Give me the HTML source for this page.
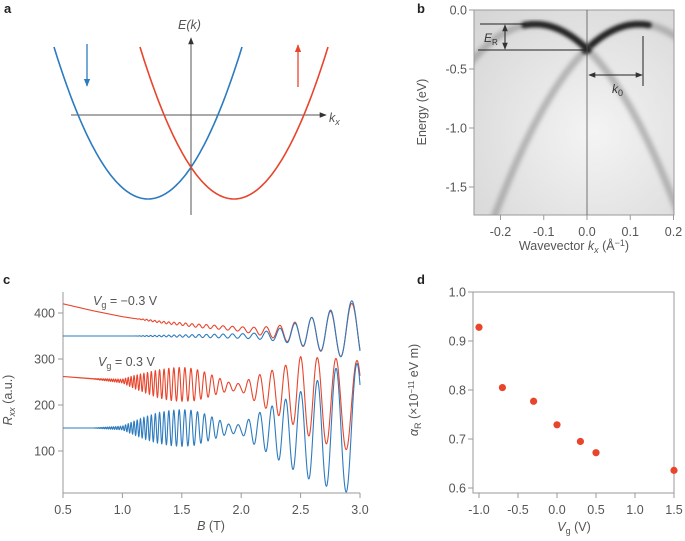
<!DOCTYPE html>
<html><head><meta charset="utf-8"><style>
html,body{margin:0;padding:0;background:#fff}
svg{display:block;font-family:"Liberation Sans",sans-serif}
.t{fill:#555;font-size:12.5px}
.pl{fill:#222;font-size:13px;font-weight:bold}
.ax{stroke:#999;stroke-width:1;fill:none}
</style></head><body>
<svg id="fig" width="685" height="541" viewBox="0 0 685 541">
<defs>
<marker id="ah" viewBox="0 0 10 10" refX="9" refY="5" markerWidth="7" markerHeight="7" orient="auto-start-reverse"><path d="M0,1 L10,5 L0,9 z" fill="#333"/></marker>
<marker id="ahb" viewBox="0 0 10 10" refX="9" refY="5" markerWidth="6" markerHeight="6" orient="auto"><path d="M0,1 L10,5 L0,9 z" fill="#2c7bbf"/></marker>
<marker id="ahr" viewBox="0 0 10 10" refX="9" refY="5" markerWidth="6" markerHeight="6" orient="auto"><path d="M0,1 L10,5 L0,9 z" fill="#e8452c"/></marker>
<filter id="bl" x="-20%" y="-20%" width="140%" height="140%"><feGaussianBlur stdDeviation="2.2"/></filter>
<filter id="bl2" x="-20%" y="-20%" width="140%" height="140%"><feGaussianBlur stdDeviation="1.5"/></filter>
<radialGradient id="bg" cx="0.6" cy="0.6" r="0.8"><stop offset="0" stop-color="#f4f4f4"/><stop offset="1" stop-color="#d6d6d6"/></radialGradient>
<clipPath id="cb"><rect x="474" y="10" width="200" height="205"/></clipPath>
</defs>

<!-- Panel a -->
<g>
<text class="pl" x="4" y="13">a</text>
<line x1="191" y1="215" x2="191" y2="38" stroke="#555" stroke-width="1" marker-end="url(#ah)"/>
<line x1="71" y1="115" x2="326" y2="115" stroke="#555" stroke-width="1" marker-end="url(#ah)"/>
<text class="t" x="178" y="29" font-style="italic">E(k)</text>
<text class="t" x="329" y="122" font-style="italic">k<tspan font-size="9" dy="3">x</tspan></text>
<path id="pa-blue" fill="none" stroke="#2c7bbf" stroke-width="1.6"/>
<path id="pa-red" fill="none" stroke="#e8452c" stroke-width="1.6"/>
<line x1="87" y1="44" x2="87" y2="86" stroke="#2c7bbf" stroke-width="1.3" marker-end="url(#ahb)"/>
<line x1="298" y1="87" x2="298" y2="45" stroke="#e8452c" stroke-width="1.3" marker-end="url(#ahr)"/>
</g>

<!-- Panel b -->
<g>
<text class="pl" x="417" y="13">b</text>
<rect x="474" y="10" width="200" height="205" fill="url(#bg)"/>
<g clip-path="url(#cb)" id="bands"></g>
<rect x="474" y="10" width="200" height="205" class="ax"/>
<line x1="587" y1="10" x2="587" y2="215" stroke="#555" stroke-width="0.8"/>
<g id="b-ticks"></g>
<line x1="480" y1="24" x2="526" y2="24" stroke="#222" stroke-width="1"/>
<line x1="478" y1="50" x2="587" y2="50" stroke="#222" stroke-width="1"/>
<line x1="505" y1="25" x2="505" y2="49" stroke="#222" stroke-width="1" marker-start="url(#ah)" marker-end="url(#ah)"/>
<text x="484" y="42" font-size="12" fill="#333" font-style="italic">E<tspan font-size="8" font-style="normal" dy="3">R</tspan></text>
<line x1="643" y1="36" x2="643" y2="86" stroke="#222" stroke-width="1"/>
<line x1="589" y1="75" x2="642" y2="75" stroke="#222" stroke-width="1" marker-start="url(#ah)" marker-end="url(#ah)"/>
<text x="612" y="93" font-size="12" fill="#333" font-style="italic">k<tspan font-size="9" font-style="normal" dy="3">0</tspan></text>
<text class="t" transform="translate(426,112) rotate(-90)" text-anchor="middle">Energy (eV)</text>
<text class="t" x="574" y="250" text-anchor="middle">Wavevector <tspan font-style="italic">k</tspan><tspan font-size="9" font-style="italic" dy="3">x</tspan><tspan dy="-3"> (Å</tspan><tspan font-size="9" dy="-4">−1</tspan><tspan dy="4">)</tspan></text>
</g>

<!-- Panel c -->
<g>
<text class="pl" x="3" y="284">c</text>
<g id="c-axes"></g>
<g id="c-curves"></g>
<text class="t" x="93" y="305"><tspan font-style="italic">V</tspan><tspan font-size="9" dy="3">g</tspan><tspan dy="-3"> = −0.3 V</tspan></text>
<text class="t" x="98" y="366"><tspan font-style="italic">V</tspan><tspan font-size="9" dy="3">g</tspan><tspan dy="-3"> = 0.3 V</tspan></text>
<text class="t" transform="translate(12,400) rotate(-90)" text-anchor="middle"><tspan font-style="italic">R</tspan><tspan font-size="9" font-style="italic" dy="3">xx</tspan><tspan dy="-3"> (a.u.)</tspan></text>
<text class="t" x="211" y="530" text-anchor="middle"><tspan font-style="italic">B</tspan> (T)</text>
</g>

<!-- Panel d -->
<g>
<text class="pl" x="417" y="284">d</text>
<rect x="473" y="292" width="201" height="201" class="ax"/>
<g id="d-axes"></g>
<g id="d-points"></g>
<text class="t" transform="translate(418,390) rotate(-90)" text-anchor="middle"><tspan font-style="italic">α</tspan><tspan font-size="9" dy="3">R</tspan><tspan dy="-3"> (×10</tspan><tspan font-size="8" dy="-4">−11</tspan><tspan dy="4"> eV m)</tspan></text>
<text class="t" x="574" y="531" text-anchor="middle"><tspan font-style="italic">V</tspan><tspan font-size="9" dy="3">g</tspan><tspan dy="-3"> (V)</tspan></text>
</g>
</svg>
<script>
// ---------- data ----------
// panel a: parabola minima (pixel-free model params in k/E units)
const aBandShift = [-1, 1];            // k-offset of spin-down / spin-up bands (units of k0)
// panel b
const bEnergyTicks = [0.0, -0.5, -1.0, -1.5];
const bKTicks = [-0.2, -0.1, 0.0, 0.1, 0.2];
const bBandTop = -0.12;   // eV
const bK0 = 0.12;         // 1/Å
const bCurv = 14.6;       // eV Å^2
// panel c
const cBTicks = [0.5, 1.0, 1.5, 2.0, 2.5, 3.0];
const cRTicks = [100, 200, 300, 400];
const cBKnots = [0.5,0.75,1.0,1.1,1.2,1.3,1.4,1.5,1.6,1.7,1.8,1.9,2.0,2.1,2.2,2.3,2.4,2.5,2.6,2.7,2.8,2.9,3.0];
const redNegBase = [420,405,392,388,385,381,378,376,373,371,369,367,365,362,360,358,357,356,356,357,358,360,362];
const redNegAmp  = [0,0,0,0,1.5,2,2.5,3,3.5,4,4,4.5,5,7,10,14,20,27,35,42,50,58,65];
const blueNegBase= [350,350,350,350,350,350,350,350,350,350,350,350,350,350,351,352,354,356,357,358,360,362,362];
const blueNegAmp = [0,0,0,0,1,1.5,2,2.5,3,3.5,4,4.5,5,6,9,13,19,26,34,42,52,62,70];
const redPosBase = [262,257,252,250,248,246,245,245,244,243,242,240,238,236,232,229,227,225,215,210,205,200,198];
const redPosAmp  = [0,0.5,4,14,22,30,35,37,35,28,18,9,8,25,38,50,62,80,88,93,96,98,98];
const bluePosBase= [150,150,150,150,150,150,150,150,150,150,149,148,147,146,145,143,141,139,140,145,148,150,150];
const bluePosAmp = [0,0,4,15,25,33,38,40,38,30,20,10,10,30,45,60,75,90,105,120,132,140,140];
const freqNeg = 45, phaseNeg = 15.36;   // oscillation frequency (T), peak index
const freqPos = 47, phasePos = 18.8;
// panel d
const dVg = [-1.0, -0.7, -0.3, 0.0, 0.3, 0.5, 1.5];
const dAlpha = [0.928, 0.805, 0.777, 0.729, 0.695, 0.672, 0.636];
const dXTicks = [-1.0, -0.5, 0.0, 0.5, 1.0, 1.5];
const dYTicks = [0.6, 0.7, 0.8, 0.9, 1.0];

const NS = 'http://www.w3.org/2000/svg';
function mk(tag, attrs, parent){const e=document.createElementNS(NS,tag);for(const k in attrs)e.setAttribute(k,attrs[k]);parent.appendChild(e);return e;}
const fmt1 = v => (v<0?'-':'') + Math.abs(v).toFixed(1);

// ---------- panel a ----------
(function(){
  const cx=191, k0px=43, emin=199, a=0.0172;
  const ids=['pa-blue','pa-red'];
  aBandShift.forEach((s,i)=>{
    const xc=cx+s*k0px; let d='';
    for(let x=xc-94;x<=xc+94;x+=2){const y=emin-a*(x-xc)*(x-xc);d+=(d?'L':'M')+x.toFixed(1)+','+y.toFixed(1);}
    document.getElementById(ids[i]).setAttribute('d',d);
  });
})();

// ---------- panel b ----------
(function(){
  const xk=k=>587+k*432.5, yE=E=>10-E*118;
  const g=document.getElementById('bands');
  [1,-1].forEach(s=>{
    const band=k=>bBandTop-bCurv*(k-s*bK0)*(k-s*bK0);
    let d='';
    for(let k=-0.28;k<=0.22;k+=0.004){d+=(d?'L':'M')+xk(k).toFixed(1)+','+yE(band(k)).toFixed(1);}
    const p=mk('path',{d:d,fill:'none',stroke:'#888','stroke-width':7,'stroke-opacity':0.55,filter:'url(#bl)'},g);
    
    
    let d2='';
    const k1=s>0?-0.005:-0.145, k2=s>0?0.145:0.005;
    for(let k=k1;k<=k2+1e-9;k+=0.004){d2+=(d2?'L':'M')+xk(k).toFixed(1)+','+yE(band(k)).toFixed(1);}
    const p2=mk('path',{d:d2,fill:'none',stroke:'#222','stroke-width':6,'stroke-linecap':'round',filter:'url(#bl2)'},g);
    
    
  });
  const t=document.getElementById('b-ticks');
  bEnergyTicks.forEach(v=>{
    mk('line',{x1:469,x2:474,y1:yE(v),y2:yE(v),stroke:'#999'},t);
    const e=mk('text',{x:467,y:yE(v)+4.5,'text-anchor':'end',class:'t'},t);e.textContent=fmt1(v);
    
    
  });
  bKTicks.forEach(v=>{
    mk('line',{x1:xk(v),x2:xk(v),y1:215,y2:220,stroke:'#999'},t);
    const e=mk('text',{x:xk(v),y:236,'text-anchor':'middle',class:'t'},t);e.textContent=fmt1(v);
    
    
  });
})();

// ---------- panel c ----------
(function(){
  const xB=b=>63+(b-0.5)*118.8, yR=r=>313+(400-r)*0.46;
  const ax=document.getElementById('c-axes');
  mk('line',{x1:63,y1:292,x2:63,y2:493,class:'ax'},ax);
  mk('line',{x1:63,y1:493,x2:360,y2:493,class:'ax'},ax);
  cBTicks.forEach(v=>{
    mk('line',{x1:xB(v),x2:xB(v),y1:493,y2:498,stroke:'#999'},ax);
    const e=mk('text',{x:xB(v),y:514,'text-anchor':'middle',class:'t'},ax);e.textContent=v.toFixed(1);
    
    
  });
  cRTicks.forEach(v=>{
    mk('line',{x1:58,x2:63,y1:yR(v),y2:yR(v),stroke:'#999'},ax);
    const e=mk('text',{x:55,y:yR(v)+4.5,'text-anchor':'end',class:'t'},ax);e.textContent=v;
    
    
  });
  function interp(arr,b){
    for(let i=0;i<cBKnots.length-1;i++){if(b<=cBKnots[i+1]){const f=(b-cBKnots[i])/(cBKnots[i+1]-cBKnots[i]);return arr[i]+f*(arr[i+1]-arr[i]);}}
    return arr[arr.length-1];
  }
  const g=document.getElementById('c-curves');
  const series=[
    [redNegBase,redNegAmp,freqNeg,phaseNeg,'#e8452c','curve-red-vg-neg'],
    [blueNegBase,blueNegAmp,freqNeg,phaseNeg,'#2c7bbf','curve-blue-vg-neg'],
    [redPosBase,redPosAmp,freqPos,phasePos,'#e8452c','curve-red-vg-pos'],
    [bluePosBase,bluePosAmp,freqPos,phasePos,'#2c7bbf','curve-blue-vg-pos']
  ];
  series.forEach(([base,amp,F,ph,col,name])=>{
    let d='';
    for(let b=0.5;b<=3.0001;b+=0.001){
      const r=interp(base,b)+interp(amp,b)*Math.cos(2*Math.PI*(F/b-ph));
      d+=(d?'L':'M')+xB(b).toFixed(2)+','+yR(r).toFixed(2);
    }
    const p=mk('path',{d:d,fill:'none',stroke:col,'stroke-width':1.1},g);
    
    
  });
})();

// ---------- panel d ----------
(function(){
  const xV=v=>479+(v+1)*78, yA=a=>292+(1.0-a)*490;
  const ax=document.getElementById('d-axes');
  dXTicks.forEach(v=>{
    mk('line',{x1:xV(v),x2:xV(v),y1:493,y2:498,stroke:'#999'},ax);
    const e=mk('text',{x:xV(v),y:514,'text-anchor':'middle',class:'t'},ax);e.textContent=fmt1(v);
    
    
  });
  dYTicks.forEach(v=>{
    mk('line',{x1:468,x2:473,y1:yA(v),y2:yA(v),stroke:'#999'},ax);
    const e=mk('text',{x:466,y:yA(v)+4.5,'text-anchor':'end',class:'t'},ax);e.textContent=v.toFixed(1);
    
    
  });
  const g=document.getElementById('d-points');
  dVg.forEach((v,i)=>{
    const c=mk('circle',{cx:xV(v),cy:yA(dAlpha[i]),r:3.6,fill:'#e8452c'},g);
    
    
  });
})();
</script>
</body></html>
